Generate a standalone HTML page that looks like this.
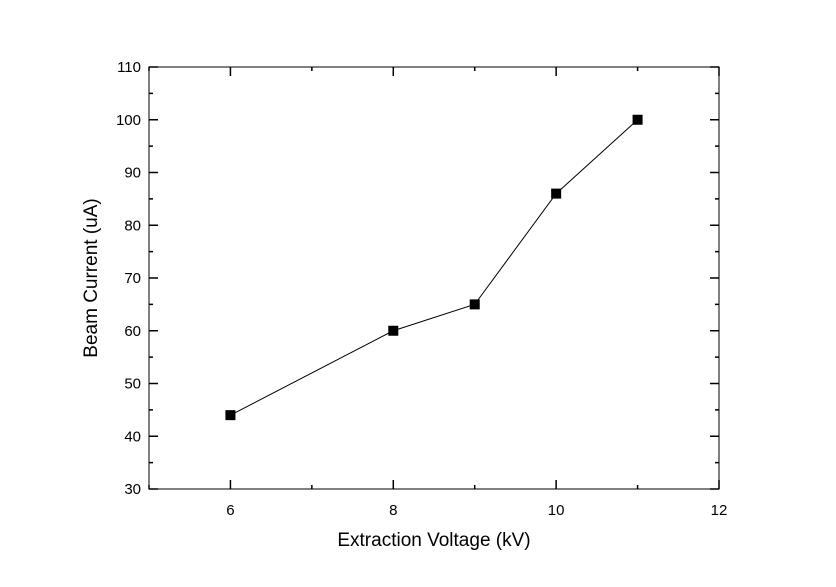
<!DOCTYPE html>
<html><head><meta charset="utf-8"><style>
html,body{margin:0;padding:0;background:#fff;}
svg{display:block;font-family:"Liberation Sans",Arial,sans-serif;}
</style></head><body>
<svg id="chart" width="836" height="587"></svg>
<script>
const xValues=[6,8,9,10,11];
const yValues=[44,60,65,86,100];
const xTickLabels=[6,8,10,12];
const yTickLabels=[30,40,50,60,70,80,90,100,110];
const L=149,R=719,T=67,B=489,X0=5,X1=12,Y0=30,Y1=110;
const sx=v=>L+(v-X0)/(X1-X0)*(R-L);
const sy=v=>B-(v-Y0)/(Y1-Y0)*(B-T);
const svg=document.getElementById('chart');
const NS='http://www.w3.org/2000/svg';
function mk(t,a){const e=document.createElementNS(NS,t);for(const k in a)e.setAttribute(k,a[k]);svg.appendChild(e);return e;}
let e=mk('rect',{x:L,y:T,width:R-L,height:B-T,fill:'none',stroke:'#000','stroke-width':1});


// x ticks
for(let v=X0;v<=X1;v++){
  const x=sx(v),len=(v%2===0)?9:4;
  e=mk('line',{x1:x,y1:B,x2:x,y2:B-len,stroke:'#000','stroke-width':1.5});
  
  
  e=mk('line',{x1:x,y1:T,x2:x,y2:T+len,stroke:'#000','stroke-width':1.5});
  
  
}
xTickLabels.forEach(v=>{
  const t=mk('text',{x:sx(v),y:B+26,'text-anchor':'middle','font-size':15,fill:'#000'});
  t.textContent=v;
  
  
});
// y ticks
for(let v=Y0;v<=Y1;v+=5){
  const y=sy(v),len=(v%10===0)?9:4;
  e=mk('line',{x1:L,y1:y,x2:L+len,y2:y,stroke:'#000','stroke-width':1.5});
  
  
  e=mk('line',{x1:R,y1:y,x2:R-len,y2:y,stroke:'#000','stroke-width':1.5});
  
  
}
yTickLabels.forEach(v=>{
  const t=mk('text',{x:L-8,y:sy(v)+5,'text-anchor':'end','font-size':15,fill:'#000'});
  t.textContent=v;
  
  
});
// line
const pts=xValues.map((x,i)=>sx(x)+','+sy(yValues[i])).join(' ');
e=mk('polyline',{points:pts,fill:'none',stroke:'#000','stroke-width':1});


xValues.forEach((x,i)=>{
  const m=mk('rect',{x:sx(x)-5,y:sy(yValues[i])-5,width:10,height:10,fill:'#000'});
  
  
});
let t=mk('text',{x:(L+R)/2,y:546,'text-anchor':'middle','font-size':19,fill:'#000'});
t.textContent='Extraction Voltage (kV)';


t=mk('text',{x:0,y:0,'text-anchor':'middle','font-size':19,fill:'#000',transform:'translate(97,'+((T+B)/2)+') rotate(-90)'});
t.textContent='Beam Current (uA)';


</script>
</body></html>
